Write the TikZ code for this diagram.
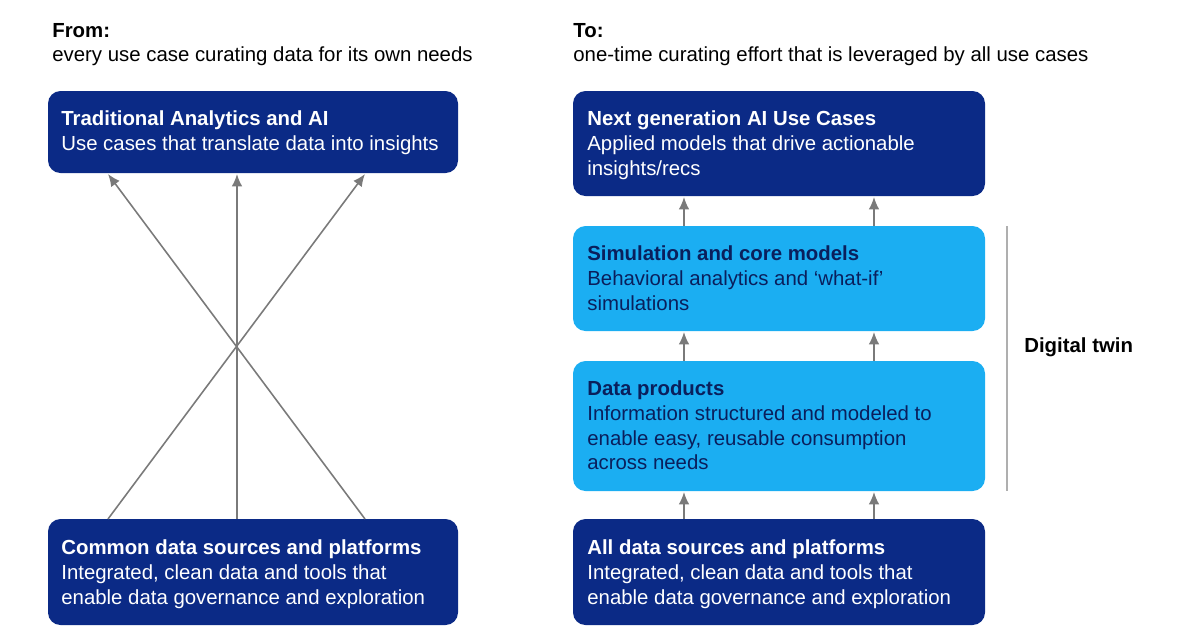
\documentclass[tikz,border=0pt]{standalone}
\usepackage{fontspec}
\setmainfont{Liberation Sans}
\usetikzlibrary{arrows.meta}
\definecolor{navy}{HTML}{0B2A86}
\definecolor{dnavy}{HTML}{0A1F5C}
\definecolor{sky}{HTML}{1BAEF2}
\definecolor{arr}{HTML}{7A7A7A}
\begin{document}
\begin{tikzpicture}[x=0.02cm,y=-0.02cm,
  box/.style={rounded corners=0.25cm,draw=none},
  txt/.style={anchor=north west,inner sep=0pt,align=left,font=\fontsize{11.6}{14.2}\selectfont},
  ar/.style={draw=arr,line width=0.9pt,-{Latex[length=7pt,width=6pt]}}]
\useasboundingbox (0,0) rectangle (1200,627);
\node[txt,anchor=west] (h1) at (52,31) {\textbf{From:}};
\node[txt,anchor=west] (s1) at (52,56) {every use case curating data for its own needs};
\node[txt,anchor=west] (h2) at (573,31) {\textbf{To:}};
\node[txt,anchor=west] (s2) at (573,56) {one-time curating effort that is leveraged by all use cases};
% left
\fill[navy,box] (48,91) rectangle (458,173);
\node[txt,text=white] (lt) at (61,110) {\textbf{Traditional Analytics and AI}\\Use cases that translate data into insights};
\fill[navy,box] (48,519) rectangle (458,625);
\node[txt,text=white] (lb) at (61,539) {\textbf{Common data sources and platforms}\\Integrated, clean data and tools that\\enable data governance and exploration};
\coordinate (b1) at (108,519); \coordinate (b2) at (237,519); \coordinate (b3) at (365,519);
\coordinate (t1) at (108,174); \coordinate (t2) at (237,174); \coordinate (t3) at (365,174);
\draw[ar] (b1) -- (t3); \draw[ar] (b2) -- (t2); \draw[ar] (b3) -- (t1);
% right
\fill[navy,box] (573,91) rectangle (985,196);
\node[txt,text=white] (r1) at (587,110) {\textbf{Next generation AI Use Cases}\\Applied models that drive actionable\\insights/recs};
\fill[sky,box] (573,226) rectangle (985,331);
\node[txt,text=dnavy] (r2) at (587,245) {\textbf{Simulation and core models}\\Behavioral analytics and ‘what-if’\\simulations};
\fill[sky,box] (573,361) rectangle (985,491);
\node[txt,text=dnavy] (r3) at (587,380) {\textbf{Data products}\\Information structured and modeled to\\enable easy, reusable consumption\\across needs};
\fill[navy,box] (573,519) rectangle (985,625);
\node[txt,text=white] (r4) at (587,539) {\textbf{All data sources and platforms}\\Integrated, clean data and tools that\\enable data governance and exploration};
\foreach \x in {684,874}{
  \draw[ar] (\x,519) -- (\x,492);
  \draw[ar] (\x,361) -- (\x,332);
  \draw[ar] (\x,226) -- (\x,197);
}
\draw[arr!60,line width=0.6pt] (1007,226) -- (1007,491);
\node[txt,anchor=west] (dt) at (1024,347) {\textbf{Digital twin}};
\end{tikzpicture}
\end{document}
